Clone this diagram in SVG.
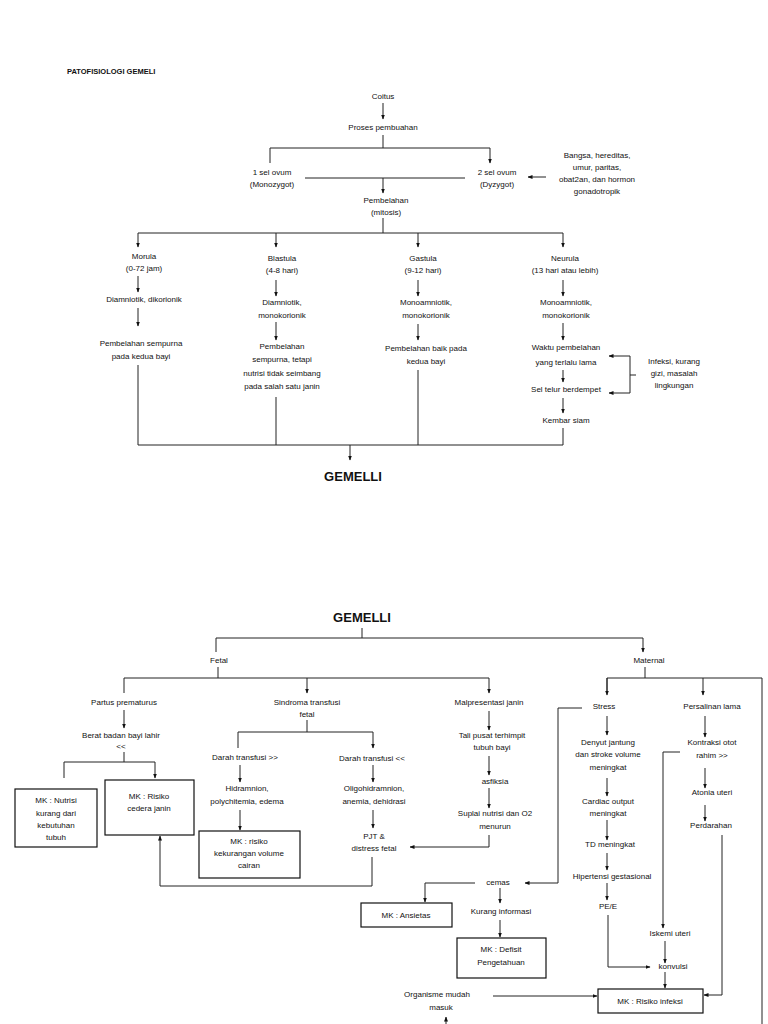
<svg xmlns="http://www.w3.org/2000/svg" width="768" height="1024" viewBox="0 0 768 1024">
<defs>
<marker id="a" viewBox="0 0 10 10" refX="9" refY="5" markerWidth="5" markerHeight="5" orient="auto"><path d="M0,1 L10,5 L0,9 z" fill="#111"/></marker>
<style>
text{font-family:"Liberation Sans",Arial,sans-serif;font-size:8px;fill:#111;text-anchor:middle}
.t{font-size:7.5px;font-weight:bold;text-anchor:start}
.g{font-size:13px;font-weight:bold}
line,polyline{stroke:#222;stroke-width:1;fill:none}
.ar{marker-end:url(#a)}
rect{fill:#fff;stroke:#111;stroke-width:1.2}
</style>
</defs>
<rect x="0" y="0" width="768" height="1024" style="stroke:none"/>
<text class="t" x="67" y="74">PATOFISIOLOGI GEMELI</text>
<g id="connectors">
<line class="ar" x1="383" y1="103" x2="383" y2="119"/>
<line x1="383" y1="135" x2="383" y2="148"/>
<polyline class="ar" points="270,163 270,148 490,148 490,163"/>
<line x1="305" y1="178" x2="465" y2="178"/>
<line class="ar" x1="383" y1="178" x2="383" y2="193"/>
<line class="ar" x1="546" y1="177" x2="528" y2="177"/>
<line x1="383" y1="218" x2="383" y2="233"/>
<line x1="138" y1="233" x2="563" y2="233"/>
<line class="ar" x1="138" y1="233" x2="138" y2="247"/>
<line class="ar" x1="276" y1="233" x2="276" y2="247"/>
<line class="ar" x1="418" y1="233" x2="418" y2="247"/>
<line class="ar" x1="563" y1="233" x2="563" y2="247"/>
<line class="ar" x1="138" y1="276" x2="138" y2="292"/>
<line class="ar" x1="138" y1="308" x2="138" y2="326"/>
<line class="ar" x1="276" y1="280" x2="276" y2="296"/>
<line class="ar" x1="276" y1="322" x2="276" y2="340"/>
<line class="ar" x1="418" y1="280" x2="418" y2="296"/>
<line class="ar" x1="418" y1="324" x2="418" y2="340"/>
<line class="ar" x1="563" y1="280" x2="563" y2="296"/>
<line class="ar" x1="563" y1="323" x2="563" y2="340"/>
<line class="ar" x1="563" y1="370" x2="563" y2="382"/>
<line class="ar" x1="563" y1="398" x2="563" y2="413"/>
<polyline class="ar" points="630,356 630,393 609,393"/>
<line class="ar" x1="630" y1="356" x2="609" y2="356"/>
<line x1="630" y1="375" x2="636" y2="375"/>
<line x1="138" y1="365" x2="138" y2="445"/>
<line x1="276" y1="397" x2="276" y2="445"/>
<line x1="418" y1="370" x2="418" y2="445"/>
<line x1="563" y1="428" x2="563" y2="445"/>
<line x1="138" y1="445" x2="563" y2="445"/>
<line class="ar" x1="350" y1="445" x2="350" y2="460"/>

<line x1="362" y1="628" x2="362" y2="638"/>
<polyline class="ar" points="216,652 216,638 643,638 643,652"/>
<line x1="218" y1="667" x2="218" y2="678"/>
<polyline class="ar" points="124,693 124,678 489,678 489,693"/>
<line class="ar" x1="307" y1="678" x2="307" y2="693"/>
<line x1="645" y1="667" x2="645" y2="678"/>
<polyline points="607,693 607,678 762,678 762,1024"/>
<line class="ar" x1="607" y1="678" x2="607" y2="695"/>
<line class="ar" x1="703" y1="678" x2="703" y2="695"/>
<line class="ar" x1="124" y1="710" x2="124" y2="728"/>
<line x1="124" y1="752" x2="124" y2="762"/>
<polyline class="ar" points="64,778 64,762 155,762 155,778"/>
<line x1="307" y1="720" x2="307" y2="732"/>
<polyline class="ar" points="238,748 238,732 373,732 373,748"/>
<line class="ar" x1="240" y1="765" x2="240" y2="782"/>
<line class="ar" x1="240" y1="810" x2="240" y2="830"/>
<line class="ar" x1="373" y1="765" x2="373" y2="782"/>
<line class="ar" x1="373" y1="810" x2="373" y2="828"/>
<polyline class="ar" points="372,857 372,886 160,886 160,836"/>
<line class="ar" x1="489" y1="711" x2="489" y2="730"/>
<line class="ar" x1="489" y1="756" x2="489" y2="775"/>
<line class="ar" x1="489" y1="788" x2="489" y2="808"/>
<polyline class="ar" points="489,835 489,847 410,847"/>
<polyline class="ar" points="582,708 558,708 558,883 525,883"/>
<line class="ar" x1="607" y1="716" x2="607" y2="735"/>
<line class="ar" x1="607" y1="778" x2="607" y2="796"/>
<line class="ar" x1="607" y1="820" x2="607" y2="840"/>
<line class="ar" x1="607" y1="853" x2="607" y2="870"/>
<line class="ar" x1="607" y1="883" x2="607" y2="900"/>
<polyline class="ar" points="608,915 608,967 650,967"/>
<line class="ar" x1="705" y1="716" x2="705" y2="737"/>
<polyline class="ar" points="680,752 663,752 663,928"/>
<line class="ar" x1="705" y1="768" x2="705" y2="788"/>
<line class="ar" x1="705" y1="805" x2="705" y2="821"/>
<polyline class="ar" points="722,835 722,995 704,995"/>
<line class="ar" x1="665" y1="941" x2="665" y2="963"/>
<line class="ar" x1="665" y1="972" x2="665" y2="988"/>
<polyline class="ar" points="475,883 425,883 425,902"/>
<line class="ar" x1="500" y1="888" x2="500" y2="903"/>
<line class="ar" x1="500" y1="920" x2="500" y2="937"/>
<line class="ar" x1="493" y1="996" x2="597" y2="996"/>
<line class="ar" x1="446" y1="1024" x2="446" y2="1017"/>
</g>

<g id="n-coitus"><text x="383" y="99">Coitus</text></g>
<g id="n-proses"><text x="383" y="130">Proses pembuahan</text></g>
<g id="n-1sel"><text x="272" y="175">1 sel ovum</text><text x="272" y="187">(Monozygot)</text></g>
<g id="n-2sel"><text x="497" y="175">2 sel ovum</text><text x="497" y="187">(Dyzygot)</text></g>
<g id="n-bangsa"><text x="597" y="158">Bangsa, hereditas,</text><text x="597" y="170">umur, paritas,</text><text x="597" y="182">obat2an, dan hormon</text><text x="597" y="194">gonadotropik</text></g>
<g id="n-pembelahan"><text x="386" y="203">Pembelahan</text><text x="386" y="215">(mitosis)</text></g>
<g id="n-morula"><text x="144" y="259">Morula</text><text x="144" y="271">(0-72 jam)</text><text x="144" y="302">Diamniotik, dikorionik</text><text x="141" y="346">Pembelahan sempurna</text><text x="141" y="359">pada kedua bayi</text></g>
<g id="n-blastula"><text x="282" y="261">Blastula</text><text x="282" y="273">(4-8 hari)</text><text x="282" y="305">Diamniotik,</text><text x="282" y="318">monokorionik</text><text x="282" y="349">Pembelahan</text><text x="282" y="362">sempurna, tetapi</text><text x="282" y="376">nutrisi tidak seimbang</text><text x="282" y="389">pada salah satu janin</text></g>
<g id="n-gastula"><text x="423" y="261">Gastula</text><text x="423" y="273">(9-12 hari)</text><text x="426" y="305">Monoamniotik,</text><text x="426" y="318">monokorionik</text><text x="426" y="351">Pembelahan baik pada</text><text x="426" y="364">kedua bayi</text></g>
<g id="n-neurula"><text x="565" y="261">Neurula</text><text x="565" y="273">(13 hari atau lebih)</text><text x="566" y="305">Monoamniotik,</text><text x="566" y="318">monokorionik</text><text x="566" y="350">Waktu pembelahan</text><text x="566" y="365">yang terlalu lama</text><text x="566" y="392">Sel telur berdempet</text><text x="566" y="423">Kembar siam</text></g>
<g id="n-infeksi"><text x="674" y="364">Infeksi, kurang</text><text x="674" y="376">gizi, masalah</text><text x="674" y="388">lingkungan</text></g>
<g id="n-gemelli1"><text class="g" x="353" y="481">GEMELLI</text></g>

<g id="n-gemelli2"><text class="g" x="362" y="622">GEMELLI</text></g>
<g id="n-fetal"><text x="219" y="663">Fetal</text></g>
<g id="n-maternal"><text x="649" y="663">Maternal</text></g>
<g id="n-partus"><text x="124" y="705">Partus prematurus</text><text x="121" y="738">Berat badan bayi lahir</text><text x="121" y="749">&lt;&lt;</text></g>
<g id="n-mk-nutrisi"><rect x="15" y="789" width="82" height="58"/><text x="56" y="803">MK : Nutrisi</text><text x="56" y="816">kurang dari</text><text x="56" y="828">kebutuhan</text><text x="56" y="840">tubuh</text></g>
<g id="n-mk-cedera"><rect x="105" y="780" width="89" height="55"/><text x="149" y="799">MK : Risiko</text><text x="149" y="811">cedera janin</text></g>
<g id="n-sindroma"><text x="307" y="705">Sindroma transfusi</text><text x="307" y="717">fetal</text></g>
<g id="n-darah1"><text x="245" y="760">Darah transfusi &gt;&gt;</text><text x="247" y="791">Hidramnion,</text><text x="247" y="804">polychitemia, edema</text></g>
<g id="n-mk-cairan"><rect x="199" y="831" width="101" height="47"/><text x="249" y="844">MK : risiko</text><text x="249" y="856">kekurangan volume</text><text x="249" y="868">cairan</text></g>
<g id="n-darah2"><text x="372" y="761">Darah transfusi &lt;&lt;</text><text x="374" y="791">Oligohidramnion,</text><text x="374" y="804">anemia, dehidrasi</text><text x="374" y="839">PJT &amp;</text><text x="374" y="851">distress fetal</text></g>
<g id="n-malpresentasi"><text x="489" y="705">Malpresentasi janin</text><text x="492" y="738">Tali pusat terhimpit</text><text x="492" y="750">tubuh bayi</text><text x="495" y="784">asfiksia</text><text x="495" y="816">Suplai nutrisi dan O2</text><text x="495" y="829">menurun</text></g>
<g id="n-stress"><text x="604" y="709">Stress</text><text x="608" y="745">Denyut jantung</text><text x="608" y="757">dan stroke volume</text><text x="608" y="770">meningkat</text><text x="608" y="804">Cardiac output</text><text x="608" y="816">meningkat</text><text x="610" y="847">TD meningkat</text><text x="612" y="879">Hipertensi gestasional</text><text x="608" y="909">PE/E</text></g>
<g id="n-persalinan"><text x="712" y="709">Persalinan lama</text><text x="712" y="745">Kontraksi otot</text><text x="712" y="758">rahim &gt;&gt;</text><text x="712" y="795">Atonia uteri</text><text x="711" y="828">Perdarahan</text></g>
<g id="n-iskemi"><text x="670" y="936">Iskemi uteri</text><text x="673" y="969">konvulsi</text></g>
<g id="n-mk-infeksi"><rect x="598" y="989" width="105" height="24"/><text x="650" y="1004">MK : Risiko infeksi</text></g>
<g id="n-cemas"><text x="498" y="885">cemas</text><text x="501" y="914">Kurang informasi</text></g>
<g id="n-mk-ansietas"><rect x="361" y="903" width="91" height="24"/><text x="406" y="918">MK : Ansietas</text></g>
<g id="n-mk-defisit"><rect x="457" y="938" width="89" height="40"/><text x="501" y="952">MK : Defisit</text><text x="501" y="965">Pengetahuan</text></g>
<g id="n-organisme"><text x="437" y="997">Organisme mudah</text><text x="441" y="1010">masuk</text></g>
</svg>
